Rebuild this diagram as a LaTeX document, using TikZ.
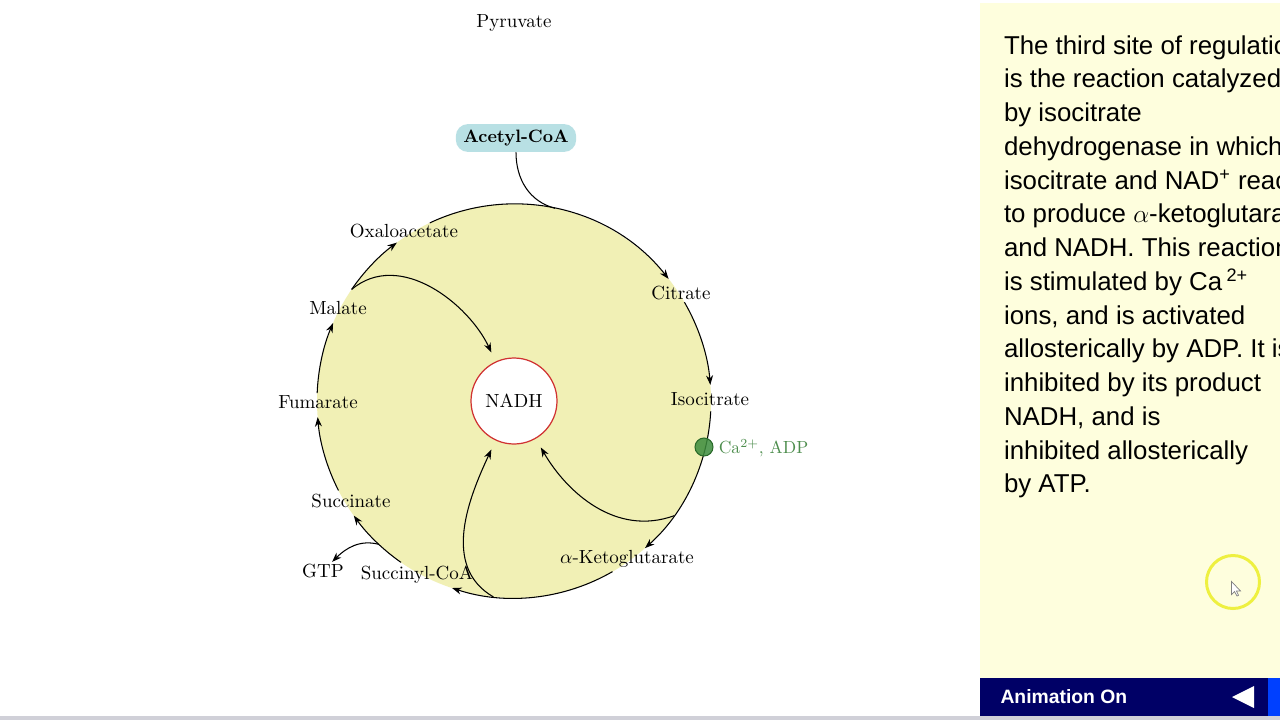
\documentclass[tikz,border=0pt]{standalone}
\usepackage{fontspec}
\newfontfamily\panelfont{Liberation Sans}
\usetikzlibrary{arrows.meta, calc}
\definecolor{ccycle}{HTML}{F1F0B5}
\definecolor{cacetyl}{HTML}{B8E0E4}
\definecolor{cnadh}{HTML}{D03232}
\definecolor{cgreen}{HTML}{3C8C3C}
\definecolor{cgreendk}{HTML}{2A6A2A}
\definecolor{cgreentx}{HTML}{4E8E4E}
\definecolor{cpanel}{HTML}{FEFEDD}
\definecolor{cnavy}{HTML}{000066}
\definecolor{cbar}{HTML}{0040FF}
\definecolor{cedge}{HTML}{D0D0D8}
\definecolor{cring}{HTML}{EEF040}
\newcommand\cycr{3.94}
\tikzset{
  every picture/.style={line width=0.6pt},
  metab/.style={font=\fontsize{10.8}{13}\selectfont, inner sep=1pt},
  acetyl/.style={fill=cacetyl, rounded corners=0.24cm, minimum height=0.48cm, inner xsep=0.15cm, font=\fontsize{10.2}{12}\selectfont\bfseries},
  hub/.style={circle, draw=cnadh, fill=white, minimum size=1.72cm, inner sep=0pt, line width=0.7pt, font=\fontsize{10.8}{13}\selectfont},
  arrow/.style={-{Stealth[length=1.9mm, width=1.4mm]}, draw=black, line width=0.6pt},
  cadot/.style={circle, fill=cgreen, fill opacity=0.85, draw=cgreendk, minimum size=0.36cm, inner sep=0pt},
  catext/.style={inner sep=1pt, font=\fontsize{10}{12}\selectfont, text=cgreentx},
  panel/.style={font=\panelfont\fontsize{14.7}{19.2}\selectfont, align=left, inner sep=0pt},
}

\begin{document}
\begin{tikzpicture}
  \useasboundingbox (0,0) rectangle (25.6,-14.4);
  \fill[white] (0,0) rectangle (25.6,-14.4);
  % text panel on the right
  \fill[cpanel] (19.6,-0.06) rectangle (25.6,-13.56);
  \fill[cnavy] (19.6,-13.56) rectangle (25.6,-14.32);
  \fill[cbar] (25.36,-13.56) rectangle (25.6,-14.32);
  \fill[cedge] (0,-14.32) rectangle (25.6,-14.4);
  \begin{scope}
    \clip (19.6,-0.06) rectangle (25.6,-13.56);
    \node[panel, anchor=north west] (txt) at (20.07,-0.7) {The third site of regulation\\
      is the reaction catalyzed\\
      by isocitrate\\
      dehydrogenase in which\\
      isocitrate and NAD\textsuperscript{+} react\\
      to produce $\alpha$-ketoglutarate\\
      and NADH. This reaction\\
      is stimulated by Ca\,\textsuperscript{2+}\\
      ions, and is activated\\
      allosterically by ADP. It is\\
      inhibited by its product\\
      NADH, and is\\
      inhibited allosterically\\
      by ATP.};
  \end{scope}
  \node[anchor=west, inner sep=0pt, text=white, font=\panelfont\bfseries\fontsize{11}{13}\selectfont] (anim) at (20.0,-13.94) {Animation On};
  \fill[white] (24.64,-13.94) -- (25.08,-13.72) -- (25.08,-14.16) -- cycle;
  % cursor
  \draw[cring, line width=1.7pt] (24.66,-11.64) circle (0.53);
  \draw[fill=white, draw=gray, line width=0.4pt, shift={(24.63,-11.63)}, scale=0.02]
    (0,0) -- (0,-13) -- (3,-10) -- (5.5,-14.5) -- (7,-13.8) -- (5,-9.5) -- (9,-9.5) -- cycle;

  % the cycle
  \coordinate (c) at (10.28,-8.02);
  \fill[ccycle] (c) circle (\cycr);
  \foreach \a/\b in {115.3/38.3, 30.1/4.7, -3/-48.3, -60/-108.3, -125/-144.4, -153/-175.3, 177.7/156.7, 145.5/126.5}
    \draw[arrow] (c) ++(\a:\cycr) arc[start angle=\a, end angle=\b, radius=\cycr];

  \node[metab] (pyr) at (10.28,-0.46) {Pyruvate};
  \node[acetyl] (acoa) at (10.32,-2.76) {Acetyl-CoA};
  \node[metab] (oaa) at (8.08,-4.62) {Oxaloacetate};
  \node[metab] (cit) at (13.62,-5.86) {Citrate};
  \node[metab] (mal) at (6.76,-6.16) {Malate};
  \node[metab] (fum) at (6.36,-8.04) {Fumarate};
  \node[metab] (icit) at (14.2,-7.98) {Isocitrate};
  \node[metab] (succ) at (7.02,-10.02) {Succinate};
  \node[metab] (akg) at (12.54,-11.18) {$\alpha$-Ketoglutarate};
  \node[metab] (gtp) at (6.46,-11.42) {GTP};
  \node[metab] (scoa) at (8.34,-11.5) {Succinyl-CoA};
  \node[hub] (nadh) at (c) {NADH};

  % branch points on the rim
  \path (c) ++(78:\cycr) coordinate (acin);
  \path (c) ++(145.5:\cycr) coordinate (malbr);
  \path (c) ++(-35.6:\cycr) coordinate (akgbr);
  \path (c) ++(-96:\cycr) coordinate (scoabr);
  \path (c) ++(-133.3:\cycr) coordinate (gtpbr);

  \draw (acoa.south) to[out=-90, in=165] (acin);
  \draw[arrow, shorten >=2mm] (malbr) to[out=40, in=115] (nadh);
  \draw[arrow, shorten >=2mm] (akgbr) to[out=200, in=-60] (nadh);
  \draw[arrow, shorten >=2mm] (scoabr) to[out=150, in=245] (nadh);
  \draw[arrow] (gtpbr) to[out=165, in=45] (gtp);

  \node[cadot] (ca) at (14.08,-8.94) {};
  \node[catext, anchor=west] (calab) at (14.33,-8.96) {Ca$^{2+}$, ADP};
\end{tikzpicture}
\end{document}
